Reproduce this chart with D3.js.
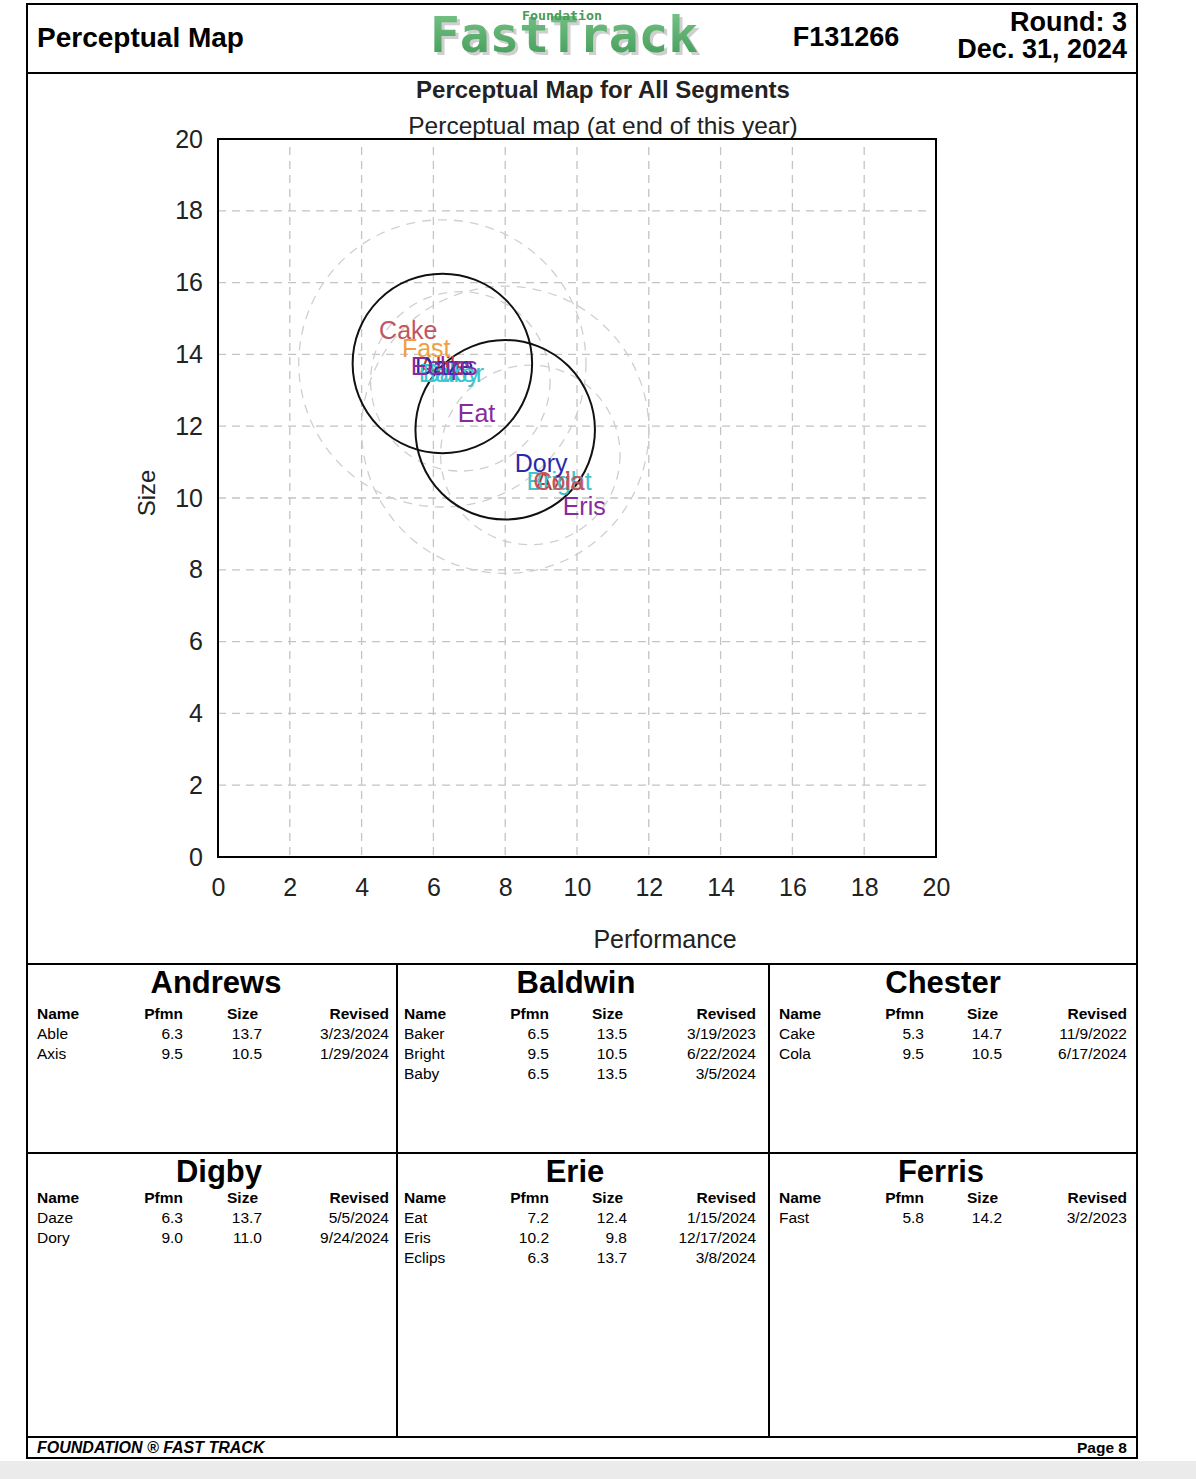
<!DOCTYPE html>
<html><head><meta charset="utf-8">
<script src="https://cdn.jsdelivr.net/npm/d3@7"></script>
<style>
html,body{margin:0;padding:0;background:#fff;}
svg{display:block;}
.narrow{font-family:"Liberation Sans Narrow","Arial Narrow","Liberation Sans",Arial,sans-serif;}
.sans{font-family:"Liberation Sans",Arial,Helvetica,sans-serif;}
</style></head>
<body>
<svg id="page" width="1196" height="1479"></svg>
<script>
// ---------- data ----------
const companies = ["Andrews","Baldwin","Chester","Digby","Erie","Ferris"];
const companyColors = ["#b83a3a","#3cc4d0","#c0565e","#2a2aa8","#8a2aa0","#f0a040"];
const productNames = [["Able","Axis"],["Baker","Bright","Baby"],["Cake","Cola"],["Daze","Dory"],["Eat","Eris","Eclips"],["Fast"]];
const productPfmn = [[6.3,9.5],[6.5,9.5,6.5],[5.3,9.5],[6.3,9.0],[7.2,10.2,6.3],[5.8]];
const productSize = [[13.7,10.5],[13.5,10.5,13.5],[14.7,10.5],[13.7,11.0],[12.4,9.8,13.7],[14.2]];
const productRevised = [["3/23/2024","1/29/2024"],["3/19/2023","6/22/2024","3/5/2024"],["11/9/2022","6/17/2024"],["5/5/2024","9/24/2024"],["1/15/2024","12/17/2024","3/8/2024"],["3/2/2023"]];
const segmentNames = ["Low Tech","High Tech"];
const segmentPfmn = [6.25,8.0];
const segmentSize = [13.75,11.9];
const segmentNextPfmn = [6.75,8.7];
const segmentNextSize = [13.25,11.2];
const fineCut = 2.5, roughCut = 4.0;
const axisTicks = [0,2,4,6,8,10,12,14,16,18,20];

// ---------- page frame ----------
const svg = d3.select("#page");
svg.append("rect").attr("x",0).attr("y",1461).attr("width",1196).attr("height",18).attr("fill","#ebebeb");
const L=27,R=1137,T=4,B=1458;
const frame = svg.append("g").attr("fill","none").attr("stroke","#000").attr("stroke-width",2);
frame.append("rect").attr("x",L).attr("y",T).attr("width",R-L).attr("height",B-T);
[73,964,1153,1437].forEach(y=>frame.append("line").attr("x1",L).attr("x2",R).attr("y1",y).attr("y2",y));
[397,769].forEach(x=>frame.append("line").attr("x1",x).attr("x2",x).attr("y1",964).attr("y2",1437));

// header
const hdr = svg.append("g").attr("class","sans").attr("font-weight","bold").attr("fill","#000");
hdr.append("text").attr("x",37).attr("y",47).attr("font-size",28).text("Perceptual Map");
hdr.append("text").attr("x",846).attr("y",46).attr("text-anchor","middle").attr("font-size",27).text("F131266");
hdr.append("text").attr("x",1127).attr("y",31).attr("text-anchor","end").attr("font-size",27).text("Round: 3");
hdr.append("text").attr("x",1127).attr("y",58).attr("text-anchor","end").attr("font-size",27).text("Dec. 31, 2024");
// logo
const defs = svg.append("defs");
const lg = defs.append("linearGradient").attr("id","logoGrad").attr("x1",0).attr("y1",0).attr("x2",0).attr("y2",1);
lg.append("stop").attr("offset","0%").attr("stop-color","#7cc68a");
lg.append("stop").attr("offset","100%").attr("stop-color","#3e9a55");
svg.append("text").attr("x",433).attr("y",55).attr("font-family","DejaVu Sans Mono, monospace").attr("font-weight","bold")
  .attr("font-size",50).attr("textLength",268).attr("lengthAdjust","spacingAndGlyphs").attr("fill","#cfcfcf").text("FastTrack");
svg.append("text").attr("x",430).attr("y",52).attr("font-family","DejaVu Sans Mono, monospace").attr("font-weight","bold")
  .attr("font-size",50).attr("textLength",268).attr("lengthAdjust","spacingAndGlyphs").attr("fill","url(#logoGrad)").text("FastTrack");
svg.append("text").attr("x",562).attr("y",20).attr("text-anchor","middle").attr("font-family","DejaVu Sans Mono, monospace").attr("font-weight","bold")
  .attr("font-size",12).attr("textLength",80).attr("lengthAdjust","spacingAndGlyphs").attr("fill","#4a9a5a").text("Foundation");

// ---------- chart ----------
const x = d3.scaleLinear().domain([0,20]).range([218,936]);
const y = d3.scaleLinear().domain([0,20]).range([857,139]);
const ch = svg.append("g");
ch.append("text").attr("class","narrow").attr("x",603).attr("y",98).attr("text-anchor","middle").attr("font-size",24).attr("font-weight","bold").attr("fill","#222").text("Perceptual Map for All Segments");
ch.append("text").attr("class","narrow").attr("x",603).attr("y",134).attr("text-anchor","middle").attr("font-size",24.5).attr("fill","#222").text("Perceptual map (at end of this year)");

// grid
const grid = ch.append("g").attr("stroke","#c4c4c4").attr("stroke-width",1.3).attr("stroke-dasharray","8,6");
axisTicks.slice(1,-1).forEach(t=>{
  grid.append("line").attr("x1",x(t)).attr("x2",x(t)).attr("y1",y(20)+8).attr("y2",y(0));
  grid.append("line").attr("x1",x(0)).attr("x2",x(20)-6).attr("y1",y(t)).attr("y2",y(t));
});

// dashed circles
const pxPerUnit = x(1)-x(0);
const dc = ch.append("g").attr("fill","none").attr("stroke","#cfcfcf").attr("stroke-width",1.3).attr("stroke-dasharray","9,7");
segmentNames.forEach((s,i)=>{
  dc.append("circle").attr("cx",x(segmentPfmn[i])).attr("cy",y(segmentSize[i])).attr("r",roughCut*pxPerUnit);
  dc.append("circle").attr("cx",x(segmentNextPfmn[i])).attr("cy",y(segmentNextSize[i])).attr("r",fineCut*pxPerUnit);
});
// solid circles
const sc = ch.append("g").attr("fill","none").attr("stroke","#111").attr("stroke-width",2);
segmentNames.forEach((s,i)=>{
  sc.append("circle").attr("cx",x(segmentPfmn[i])).attr("cy",y(segmentSize[i])).attr("r",fineCut*pxPerUnit);
});

// frame
ch.append("rect").attr("x",x(0)).attr("y",y(20)).attr("width",x(20)-x(0)).attr("height",y(0)-y(20)).attr("fill","none").attr("stroke","#000").attr("stroke-width",2);

// axes
const xAxis = ch.append("g").attr("class","narrow").attr("transform",`translate(0,${y(0)})`)
  .call(d3.axisBottom(x).tickValues(axisTicks).tickSize(0).tickPadding(21).tickFormat(d3.format("d")));
xAxis.select(".domain").remove();
xAxis.selectAll("text").attr("font-size",25).attr("fill","#222").attr("font-family",null);
const yAxis = ch.append("g").attr("class","narrow").attr("transform",`translate(${x(0)},0)`)
  .call(d3.axisLeft(y).tickValues(axisTicks).tickSize(0).tickPadding(15).tickFormat(d3.format("d")));
yAxis.select(".domain").remove();
yAxis.selectAll("text").attr("font-size",25).attr("fill","#222").attr("font-family",null);
ch.append("text").attr("class","narrow").attr("x",665).attr("y",948).attr("text-anchor","middle").attr("font-size",25).attr("fill","#222").text("Performance");
ch.append("text").attr("class","narrow").attr("transform","translate(155,493) rotate(-90)").attr("text-anchor","middle").attr("font-size",24).attr("fill","#222").text("Size");

// product labels
const lab = ch.append("g").attr("class","narrow").attr("font-size",25).attr("text-anchor","middle").attr("dominant-baseline","central");
companies.forEach((c,ci)=>{
  productNames[ci].forEach((n,pi)=>{
    lab.append("text").attr("x",x(productPfmn[ci][pi])).attr("y",y(productSize[ci][pi])+1)
      .attr("fill",companyColors[ci]).text(n);
  });
});

// ---------- tables ----------
const colA = {name:37, pf:183, sz:262, rv:389, hx:216};
const colB = {name:404, pf:549, sz:627, rv:756, hx:576};
const colC = {name:779, pf:924, sz:1002, rv:1127, hx:943};
const cells = [
  Object.assign({hb:993,rb:1019},colA),Object.assign({hb:993,rb:1019},colB),Object.assign({hb:993,rb:1019},colC),
  Object.assign({hb:1182,rb:1203},colA,{hx:219}),Object.assign({hb:1182,rb:1203},colB,{hx:575}),Object.assign({hb:1182,rb:1203},colC,{hx:941})
];
const tb = svg.append("g").attr("class","sans").attr("fill","#000");
companies.forEach((c,ci)=>{
  const cell = cells[ci];
  tb.append("text").attr("x",cell.hx).attr("y",cell.hb).attr("text-anchor","middle").attr("font-size",31).attr("font-weight","bold").text(c);
  const hg = tb.append("g").attr("font-size",15.5).attr("font-weight","bold");
  hg.append("text").attr("x",cell.name).attr("y",cell.rb).text("Name");
  hg.append("text").attr("x",cell.pf).attr("y",cell.rb).attr("text-anchor","end").text("Pfmn");
  hg.append("text").attr("x",cell.sz-4).attr("y",cell.rb).attr("text-anchor","end").text("Size");
  hg.append("text").attr("x",cell.rv).attr("y",cell.rb).attr("text-anchor","end").text("Revised");
  const rg = tb.append("g").attr("font-size",15.5);
  productNames[ci].forEach((n,pi)=>{
    const yy = cell.rb + 20*(pi+1);
    rg.append("text").attr("x",cell.name).attr("y",yy).text(n);
    rg.append("text").attr("x",cell.pf).attr("y",yy).attr("text-anchor","end").text(productPfmn[ci][pi].toFixed(1));
    rg.append("text").attr("x",cell.sz).attr("y",yy).attr("text-anchor","end").text(productSize[ci][pi].toFixed(1));
    rg.append("text").attr("x",cell.rv).attr("y",yy).attr("text-anchor","end").text(productRevised[ci][pi]);
  });
});

// footer
svg.append("text").attr("class","sans").attr("x",37).attr("y",1453).attr("font-size",16).attr("font-weight","bold").attr("font-style","italic").text("FOUNDATION ® FAST TRACK");
svg.append("text").attr("class","sans").attr("x",1127).attr("y",1453).attr("text-anchor","end").attr("font-size",15.5).attr("font-weight","bold").text("Page 8");
</script>
</body></html>
